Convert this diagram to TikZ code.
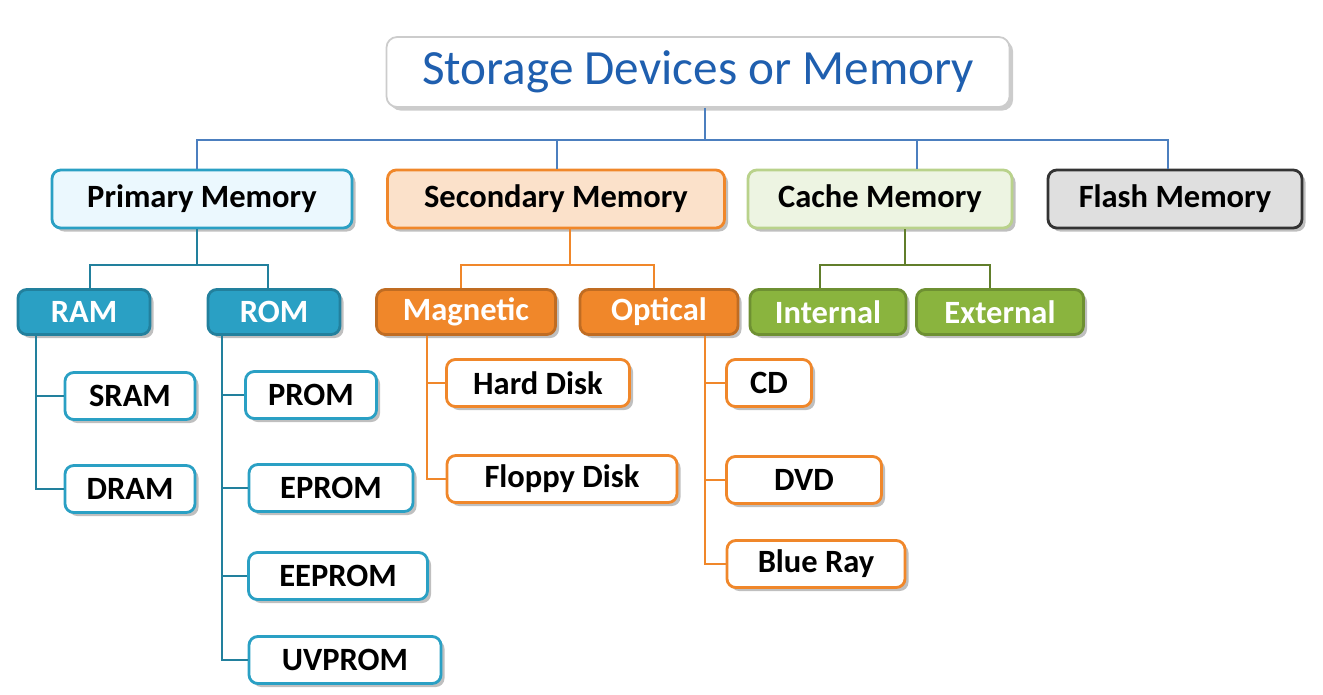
\documentclass[tikz,border=0pt]{standalone}
\usepackage{fontspec}
\setmainfont{Carlito}
\usetikzlibrary{shadows}
\definecolor{tealc}{HTML}{2AA0C4}
\definecolor{orc}{HTML}{F0872A}
\definecolor{grc}{HTML}{8AB43E}
\definecolor{ttl}{HTML}{1F5FAF}
\begin{document}
\begin{tikzpicture}[x=0.02cm,y=-0.02cm,
 base/.style={rounded corners=5pt,draw,line width=1.6pt,font=\bfseries\fontsize{18.5}{20}\selectfont,
   drop shadow={shadow xshift=2pt,shadow yshift=-2pt,opacity=0.5},inner sep=0pt},
 lvl1/.style={base,minimum height=58*0.02cm},
 lvl2/.style={base,minimum height=45*0.02cm,text=white},
 leaf/.style={base,fill=white,minimum height=47*0.02cm},
 bl/.style={draw=tealc!80!black,line width=1.3pt},
 ol/.style={draw=orc,line width=1.3pt},
 gl/.style={draw=grc!70!black,line width=1.3pt},
 tl/.style={draw=ttl!80,line width=1pt}]
\useasboundingbox (0,0) rectangle (1323,694);
\node[rounded corners=6pt,draw=gray!40,line width=1pt,fill=white,drop shadow={shadow xshift=2pt,shadow yshift=-2pt,opacity=0.4},
 minimum width=623*0.02cm,minimum height=70*0.02cm,text=ttl,font=\fontsize{28}{32}\selectfont] (title) at (698,72) {Storage Devices or Memory};
\node[lvl1,draw=tealc,fill=cyan!8,minimum width=300*0.02cm] (pm) at (202,199) {Primary Memory};
\node[lvl1,draw=orc,fill=orc!25,minimum width=337*0.02cm] (sm) at (556,199) {Secondary Memory};
\node[lvl1,draw=grc!60,fill=grc!15,minimum width=264*0.02cm] (cm) at (880,199) {Cache Memory};
\node[lvl1,draw=black!80,fill=gray!25,minimum width=254*0.02cm] (fm) at (1175,199) {Flash Memory};
\node[lvl2,draw=tealc!80!black,fill=tealc,minimum width=132*0.02cm] (ram) at (84,312) {RAM};
\node[lvl2,draw=tealc!80!black,fill=tealc,minimum width=132*0.02cm] (rom) at (274,312) {ROM};
\node[lvl2,draw=orc!80!black,fill=orc,minimum width=179*0.02cm] (mag) at (466,312) {Magnetic};
\node[lvl2,draw=orc!80!black,fill=orc,minimum width=158*0.02cm] (opt) at (659,312) {Optical};
\node[lvl2,draw=grc!80!black,fill=grc,minimum width=156*0.02cm] (int) at (828,312) {Internal};
\node[lvl2,draw=grc!80!black,fill=grc,minimum width=167*0.02cm] (ext) at (1000,312) {External};
\node[leaf,draw=tealc,minimum width=130*0.02cm] (sram) at (130,396) {SRAM};
\node[leaf,draw=tealc,minimum width=130*0.02cm] (dram) at (130,489) {DRAM};
\node[leaf,draw=tealc,minimum width=131*0.02cm] (prom) at (311,395) {PROM};
\node[leaf,draw=tealc,minimum width=164*0.02cm] (eprom) at (331,488) {EPROM};
\node[leaf,draw=tealc,minimum width=179*0.02cm] (eeprom) at (338,576) {EEPROM};
\node[leaf,draw=tealc,minimum width=192*0.02cm] (uvprom) at (345,660) {UVPROM};
\node[leaf,draw=orc,minimum width=183*0.02cm] (hd) at (538,383) {Hard Disk};
\node[leaf,draw=orc,minimum width=230*0.02cm] (fd) at (562,479) {Floppy Disk};
\node[leaf,draw=orc,minimum width=85*0.02cm] (cd) at (769,383) {CD};
\node[leaf,draw=orc,minimum width=155*0.02cm] (dvd) at (804,480) {DVD};
\node[leaf,draw=orc,minimum width=178*0.02cm] (br) at (816,564) {Blue Ray};
% connectors
\draw[tl] (title.south -| 705,0) |- (197,140) -- (pm.north -| 197,0);
\draw[tl] (197,140) -| (fm.north -| 1168,0);
\draw[tl] (557,140) -- (sm.north -| 557,0);
\draw[tl] (917,140) -- (cm.north -| 917,0);
\draw[bl] (pm.south -| 197,0) -- (197,265);
\draw[bl] (ram.north -| 90,0) |- (268,265) -- (rom.north -| 268,0);
\draw[bl] (ram.south -| 36,0) |- (sram.west);
\draw[bl] (36,396) |- (dram.west);
\draw[bl] (rom.south -| 222,0) |- (uvprom.west);
\draw[bl] (222,395) -- (prom.west);
\draw[bl] (222,488) -- (eprom.west);
\draw[bl] (222,576) -- (eeprom.west);
\draw[ol] (sm.south -| 570,0) -- (570,265);
\draw[ol] (mag.north -| 461,0) |- (654,265) -- (opt.north -| 654,0);
\draw[ol] (mag.south -| 427,0) |- (fd.west);
\draw[ol] (427,383) -- (hd.west);
\draw[ol] (opt.south -| 705,0) |- (br.west);
\draw[ol] (705,383) -- (cd.west);
\draw[ol] (705,480) -- (dvd.west);
\draw[gl] (cm.south -| 905,0) -- (905,265);
\draw[gl] (int.north -| 820,0) |- (990,265) -- (ext.north -| 990,0);
\end{tikzpicture}
\end{document}
